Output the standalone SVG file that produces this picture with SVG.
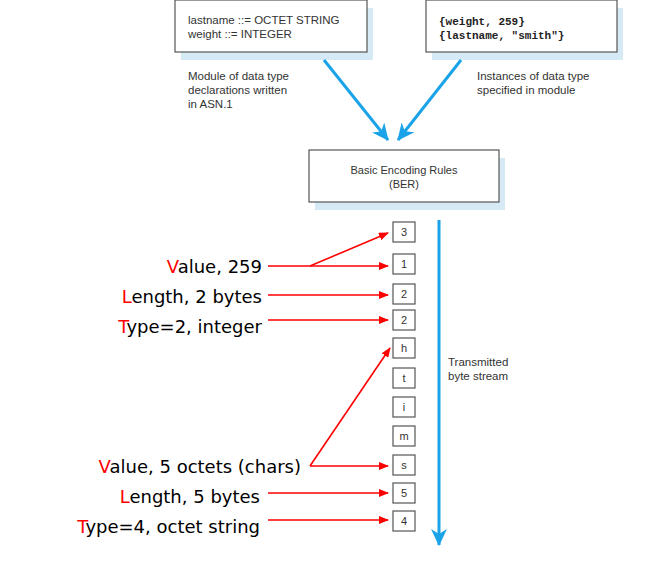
<svg xmlns="http://www.w3.org/2000/svg" width="658" height="562" viewBox="0 0 658 562">
<defs>
<marker id="ra" markerWidth="10" markerHeight="8" refX="9" refY="4" orient="auto" markerUnits="userSpaceOnUse"><path d="M0,0 L10,4 L0,8 z" fill="#f00"/></marker>
<marker id="ba" markerWidth="18" markerHeight="16" refX="16" refY="8" orient="auto" markerUnits="userSpaceOnUse"><path d="M0,0 L17,8 L0,16 L5,8 z" fill="#1aa3e8"/></marker>
</defs>
<style>
.box{fill:#fff;stroke:#555;stroke-width:1.2}
.sh{fill:#d6eaf6}
.t{font-family:"Liberation Sans",Arial,sans-serif;font-size:11.5px;fill:#333}
.m{font-family:"Liberation Mono",monospace;font-size:11px;fill:#222;font-weight:bold}
.b{font-family:"Liberation Sans",Arial,sans-serif;font-size:11px;fill:#333;text-anchor:middle}
.lab{font-family:"DejaVu Sans",sans-serif;font-size:18px;fill:#000;text-anchor:end}
.r{fill:#f00}
.rl{stroke:#f00;stroke-width:1.6;fill:none}
.bl{stroke:#1aa3e8;stroke-width:3;fill:none}
</style>
<rect width="658" height="562" fill="#fff"/>
<g id="asn">
<rect class="sh" x="181" y="8" width="192" height="52"/>
<rect class="box" x="175" y="0" width="192" height="52"/>
<text class="t" x="188" y="24">lastname ::= OCTET STRING</text>
<text class="t" x="188" y="38">weight ::= INTEGER</text>
<text class="t" x="188" y="80">Module of data type</text>
<text class="t" x="188" y="94">declarations written</text>
<text class="t" x="188" y="108">in ASN.1</text>
</g>
<g id="inst">
<rect class="sh" x="432" y="8" width="191" height="52"/>
<rect class="box" x="426" y="0" width="191" height="52"/>
<text class="m" x="439" y="25">{weight, 259}</text>
<text class="m" x="439" y="39">{lastname, "smith"}</text>
<text class="t" x="477" y="80">Instances of data type</text>
<text class="t" x="477" y="94">specified in module</text>
</g>
<g id="ber">
<rect class="sh" x="315" y="158" width="190" height="52"/>
<rect class="box" x="309" y="150" width="190" height="52"/>
<text class="b" x="404" y="174">Basic Encoding Rules</text>
<text class="b" x="404" y="188">(BER)</text>
</g>
<g id="bytes">
<rect class="box" x="393" y="222" width="22" height="20"/><text class="b" x="404" y="236">3</text>
<rect class="box" x="393" y="254" width="22" height="20"/><text class="b" x="404" y="268">1</text>
<rect class="box" x="393" y="284" width="22" height="20"/><text class="b" x="404" y="298">2</text>
<rect class="box" x="393" y="310" width="22" height="20"/><text class="b" x="404" y="324">2</text>
<rect class="box" x="393" y="338" width="22" height="20"/><text class="b" x="404" y="352">h</text>
<rect class="box" x="393" y="368" width="22" height="20"/><text class="b" x="404" y="382">t</text>
<rect class="box" x="393" y="397" width="22" height="20"/><text class="b" x="404" y="411">i</text>
<rect class="box" x="393" y="426" width="22" height="20"/><text class="b" x="404" y="440">m</text>
<rect class="box" x="393" y="455" width="22" height="20"/><text class="b" x="404" y="469">s</text>
<rect class="box" x="393" y="483" width="22" height="20"/><text class="b" x="404" y="497">5</text>
<rect class="box" x="393" y="511" width="22" height="20"/><text class="b" x="404" y="525">4</text>
<text class="t" x="448" y="366">Transmitted</text>
<text class="t" x="448" y="380">byte stream</text>
</g>
<g id="labels">
<text class="lab" x="262" y="273"><tspan class="r">V</tspan>alue, 259</text>
<text class="lab" x="262" y="303"><tspan class="r">L</tspan>ength, 2 bytes</text>
<text class="lab" x="262" y="333"><tspan class="r">T</tspan>ype=2, integer</text>
<text class="lab" x="301" y="473"><tspan class="r">V</tspan>alue, 5 octets (chars)</text>
<text class="lab" x="260" y="503"><tspan class="r">L</tspan>ength, 5 bytes</text>
<text class="lab" x="260" y="533"><tspan class="r">T</tspan>ype=4, octet string</text>
</g>
<g id="connectors">
<path class="bl" d="M324,60 L388,140" marker-end="url(#ba)"/>
<path class="bl" d="M461,60 L398,140" marker-end="url(#ba)"/>
<path class="bl" d="M439,220 L439,545" marker-end="url(#ba)"/>
<path class="rl" d="M268,266 L310,266 L388,233" marker-end="url(#ra)"/>
<path class="rl" d="M310,266 L388,266" marker-end="url(#ra)"/>
<path class="rl" d="M268,295 L388,295" marker-end="url(#ra)"/>
<path class="rl" d="M268,320 L388,320" marker-end="url(#ra)"/>
<path class="rl" d="M310,466 L390,348" marker-end="url(#ra)"/>
<path class="rl" d="M310,466 L388,466" marker-end="url(#ra)"/>
<path class="rl" d="M268,493 L388,493" marker-end="url(#ra)"/>
<path class="rl" d="M268,520 L388,520" marker-end="url(#ra)"/>
</g>
</svg>
